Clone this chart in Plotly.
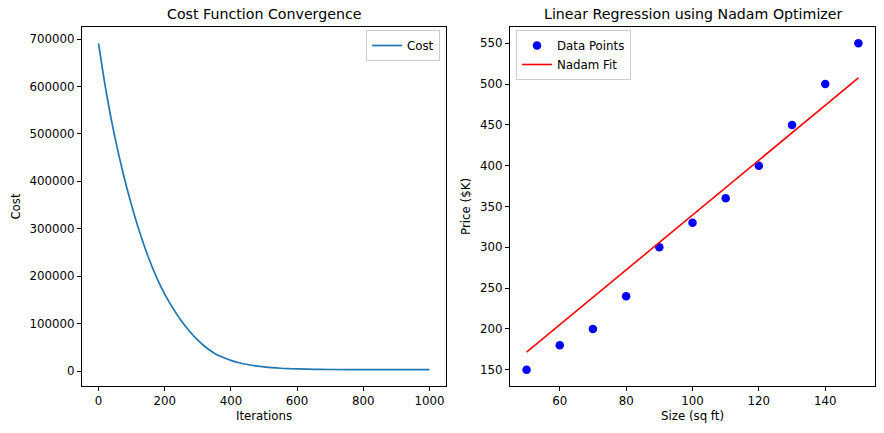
import plotly.graph_objects as go

# Cost convergence, cost values
iterations = [0, 25, 50, 75, 100, 125, 150, 175, 200, 225, 250, 275, 300, 325, 350, 375, 400,
              425, 450, 475, 500, 525, 550, 575, 600, 650, 700, 800, 900, 1000]
cost = [691000, 581000, 491000, 415000, 349000, 291000, 241000, 198000, 162000, 132000, 106000,
        84000, 65000, 49500, 37500, 29000, 22500, 17500, 13700, 10800, 8600, 7000, 5800, 5000, 4400,
        3600, 3200, 2950, 2850, 2800]

# Regression data
size_sqft = [50, 60, 70, 80, 90, 100, 110, 120, 130, 140, 150]
price_k = [150, 180, 200, 240, 300, 330, 360, 400, 450, 500, 550]
fit_x = [50, 150]
fit_y = [171.5, 507.5]

W, H = 884, 433
FONT = "DejaVu Sans"

def px(x):
    return x / W

def py(y):
    return 1 - y / H

fig = go.Figure()
fig.add_trace(go.Scatter(x=iterations, y=cost, mode="lines", name="Cost",
                         line=dict(color="#1f77b4", width=1.7, shape="spline", smoothing=1.0),
                         xaxis="x", yaxis="y", legend="legend", showlegend=True))
fig.add_trace(go.Scatter(x=size_sqft, y=price_k, mode="markers", name="Data Points",
                         marker=dict(color="blue", size=8.5),
                         xaxis="x2", yaxis="y2", legend="legend2", showlegend=True))
fig.add_trace(go.Scatter(x=fit_x, y=fit_y, mode="lines", name="Nadam Fit",
                         line=dict(color="red", width=1.6),
                         xaxis="x2", yaxis="y2", legend="legend2", showlegend=True))

axis_common = dict(showgrid=False, zeroline=False, showline=True, linecolor="black", linewidth=1,
                   mirror=True, ticks="outside", ticklen=4, tickwidth=1, tickcolor="black",
                   tickfont=dict(family=FONT, size=11.8, color="black"), automargin=False)

fig.update_layout(
    width=W, height=H, margin=dict(l=0, r=0, t=0, b=0),
    showlegend=True,
    paper_bgcolor="white", plot_bgcolor="white",
    font=dict(family=FONT, size=11.8, color="black"),
    xaxis=dict(domain=[px(82), px(446)], range=[-50, 1050], tickvals=[0, 200, 400, 600, 800, 1000],
               title=dict(text="Iterations", standoff=4, font=dict(family=FONT, size=11.8)), anchor="y", **axis_common),
    yaxis=dict(domain=[py(386), py(27)], range=[-31600, 725500],
               tickvals=[0, 100000, 200000, 300000, 400000, 500000, 600000, 700000],
               tickformat="d",
               title=dict(text="Cost", standoff=6, font=dict(family=FONT, size=11.8)), anchor="x", **axis_common),
    xaxis2=dict(domain=[px(510), px(875)], range=[45, 155], tickvals=[60, 80, 100, 120, 140],
                title=dict(text="Size (sq ft)", standoff=4, font=dict(family=FONT, size=11.8)), anchor="y2", **axis_common),
    yaxis2=dict(domain=[py(386), py(27)], range=[130, 570],
                tickvals=[150, 200, 250, 300, 350, 400, 450, 500, 550],
                title=dict(text="Price ($K)", standoff=6, font=dict(family=FONT, size=11.8)), anchor="x2", **axis_common),
    legend=dict(x=px(440), y=py(30), xanchor="right", yanchor="top", bordercolor="#cccccc", borderwidth=1,
                bgcolor="rgba(255,255,255,0.8)", itemwidth=30, font=dict(family=FONT, size=11.8),
                tracegroupgap=0, visible=True),
    legend2=dict(x=px(516), y=py(30), xanchor="left", yanchor="top", bordercolor="#cccccc", borderwidth=1,
                 bgcolor="rgba(255,255,255,0.8)", itemwidth=30, font=dict(family=FONT, size=11.8),
                 tracegroupgap=0, visible=True),
    annotations=[
        dict(text="Cost Function Convergence", x=(px(82) + px(446)) / 2, y=py(14), xref="paper", yref="paper",
             showarrow=False, font=dict(family=FONT, size=14.2, color="black"), xanchor="center", yanchor="middle"),
        dict(text="Linear Regression using Nadam Optimizer", x=(px(510) + px(875)) / 2, y=py(14), xref="paper",
             yref="paper", showarrow=False, font=dict(family=FONT, size=14.2, color="black"),
             xanchor="center", yanchor="middle"),
    ],
)

fig.write_html("out.html", config={"displayModeBar": False},
               post_script="document.body.style.margin='0';document.body.style.overflow='hidden';")
